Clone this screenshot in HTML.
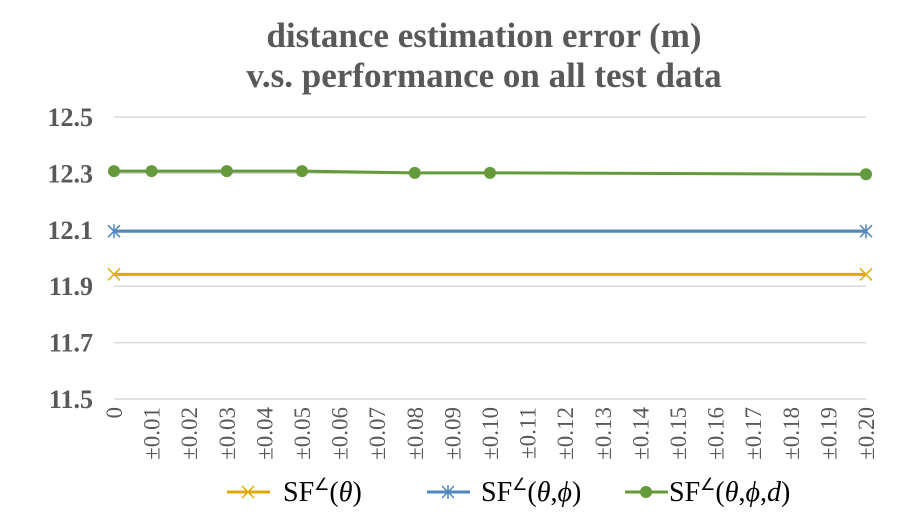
<!DOCTYPE html>
<html><head><meta charset="utf-8"><style>
body{margin:0;background:#fff;}
svg text{font-family:"Liberation Serif",serif;}
</style></head><body>
<svg width="908" height="525" id="c">
<text x="484" y="47" text-anchor="middle" font-size="35" font-weight="bold" fill="#595959">distance estimation error (m)</text>
<text x="484" y="87" text-anchor="middle" font-size="35" font-weight="bold" fill="#595959">v.s. performance on all test data</text>
<g id="grid"></g><g id="series"></g><g id="xl"></g>
<g>
<g><line x1="227" y1="492" x2="270" y2="492" stroke="#E0A800" stroke-width="3"/><path d="M242 486l12 12M254 486l-12 12" stroke="#E0A800" stroke-width="1.5"/><text x="283" y="501" font-size="28" fill="#000">SF<tspan font-size="17" dy="-11">∠</tspan><tspan dy="11">(</tspan><tspan font-style="italic">θ</tspan>)</text></g>
<g><line x1="427" y1="492" x2="470" y2="492" stroke="#4F87BE" stroke-width="3"/><path d="M442 486l12 12M454 486l-12 12M448 485v14" stroke="#4F87BE" stroke-width="1.5"/><text x="481" y="501" font-size="28" fill="#000">SF<tspan font-size="17" dy="-11">∠</tspan><tspan dy="11">(</tspan><tspan font-style="italic">θ</tspan>,<tspan font-style="italic">ϕ</tspan>)</text></g>
<g><line x1="625" y1="492" x2="668" y2="492" stroke="#64993C" stroke-width="3"/><circle cx="646" cy="492" r="6" fill="#64993C"/><text x="669" y="501" font-size="28" fill="#000">SF<tspan font-size="17" dy="-11">∠</tspan><tspan dy="11">(</tspan><tspan font-style="italic">θ</tspan>,<tspan font-style="italic">ϕ</tspan>,<tspan font-style="italic">d</tspan>)</text></g>
</g>
</svg>
<script>
const categories=["0","±0.01","±0.02","±0.03","±0.04","±0.05","±0.06","±0.07","±0.08","±0.09","±0.10","±0.11","±0.12","±0.13","±0.14","±0.15","±0.16","±0.17","±0.18","±0.19","±0.20"];
const yTicks=[12.5,12.3,12.1,11.9,11.7,11.5];
const thetaIdx=[0,20];
const thetaVals=[11.942,11.942];
const thetaPhiIdx=[0,20];
const thetaPhiVals=[12.095,12.095];
const fullIdx=[0,1,3,5,8,10,20];
const fullVals=[12.308,12.308,12.308,12.308,12.302,12.302,12.297];
const NS="http://www.w3.org/2000/svg";
const x=i=>114+i*(866-114)/(categories.length-1);
const y=v=>117+(12.5-v)*(399-117)/1.0;
function mk(t,a,p){const e=document.createElementNS(NS,t);for(const k in a)e.setAttribute(k,a[k]);p.appendChild(e);return e;}
const grid=document.getElementById('grid'),ser=document.getElementById('series'),xl=document.getElementById('xl');
yTicks.forEach(v=>{
 const l=mk('line',{x1:114,x2:866,y1:y(v),y2:y(v),stroke:'#d9d9d9','stroke-width':1.5},grid);
 
 
 const t=mk('text',{x:93,y:y(v)+9,'text-anchor':'end','font-size':26,'font-weight':'bold',fill:'#595959'},grid);
 t.textContent=v.toFixed(1);
 
 
});
categories.forEach((c,i)=>{
 const t=mk('text',{transform:`translate(${x(i)+8},407) rotate(-90)`,'text-anchor':'end','font-size':23,fill:'#595959'},xl);
 t.textContent=c;
 
 
});
function series(idx,vals,col,marker,name){
 const g=mk('g',{},ser);
 
 
 mk('polyline',{points:idx.map((i,k)=>x(i)+','+y(vals[k])).join(' '),fill:'none',stroke:col,'stroke-width':3},g);
 idx.forEach((i,k)=>{
  const cx=x(i),cy=y(vals[k]);let m;
  if(marker==='circle')m=mk('circle',{cx:cx,cy:cy,r:6,fill:col},g);
  else{let d=`M${cx-6} ${cy-6}l12 12M${cx+6} ${cy-6}l-12 12`;if(marker==='star')d+=`M${cx} ${cy-7}v14`;m=mk('path',{d:d,stroke:col,'stroke-width':1.5},g);}
  
  
 });
}
series(thetaIdx,thetaVals,'#E0A800','x','series-theta');
series(thetaPhiIdx,thetaPhiVals,'#4F87BE','star','series-theta-phi');
series(fullIdx,fullVals,'#64993C','circle','series-theta-phi-d');
</script>
</body></html>
